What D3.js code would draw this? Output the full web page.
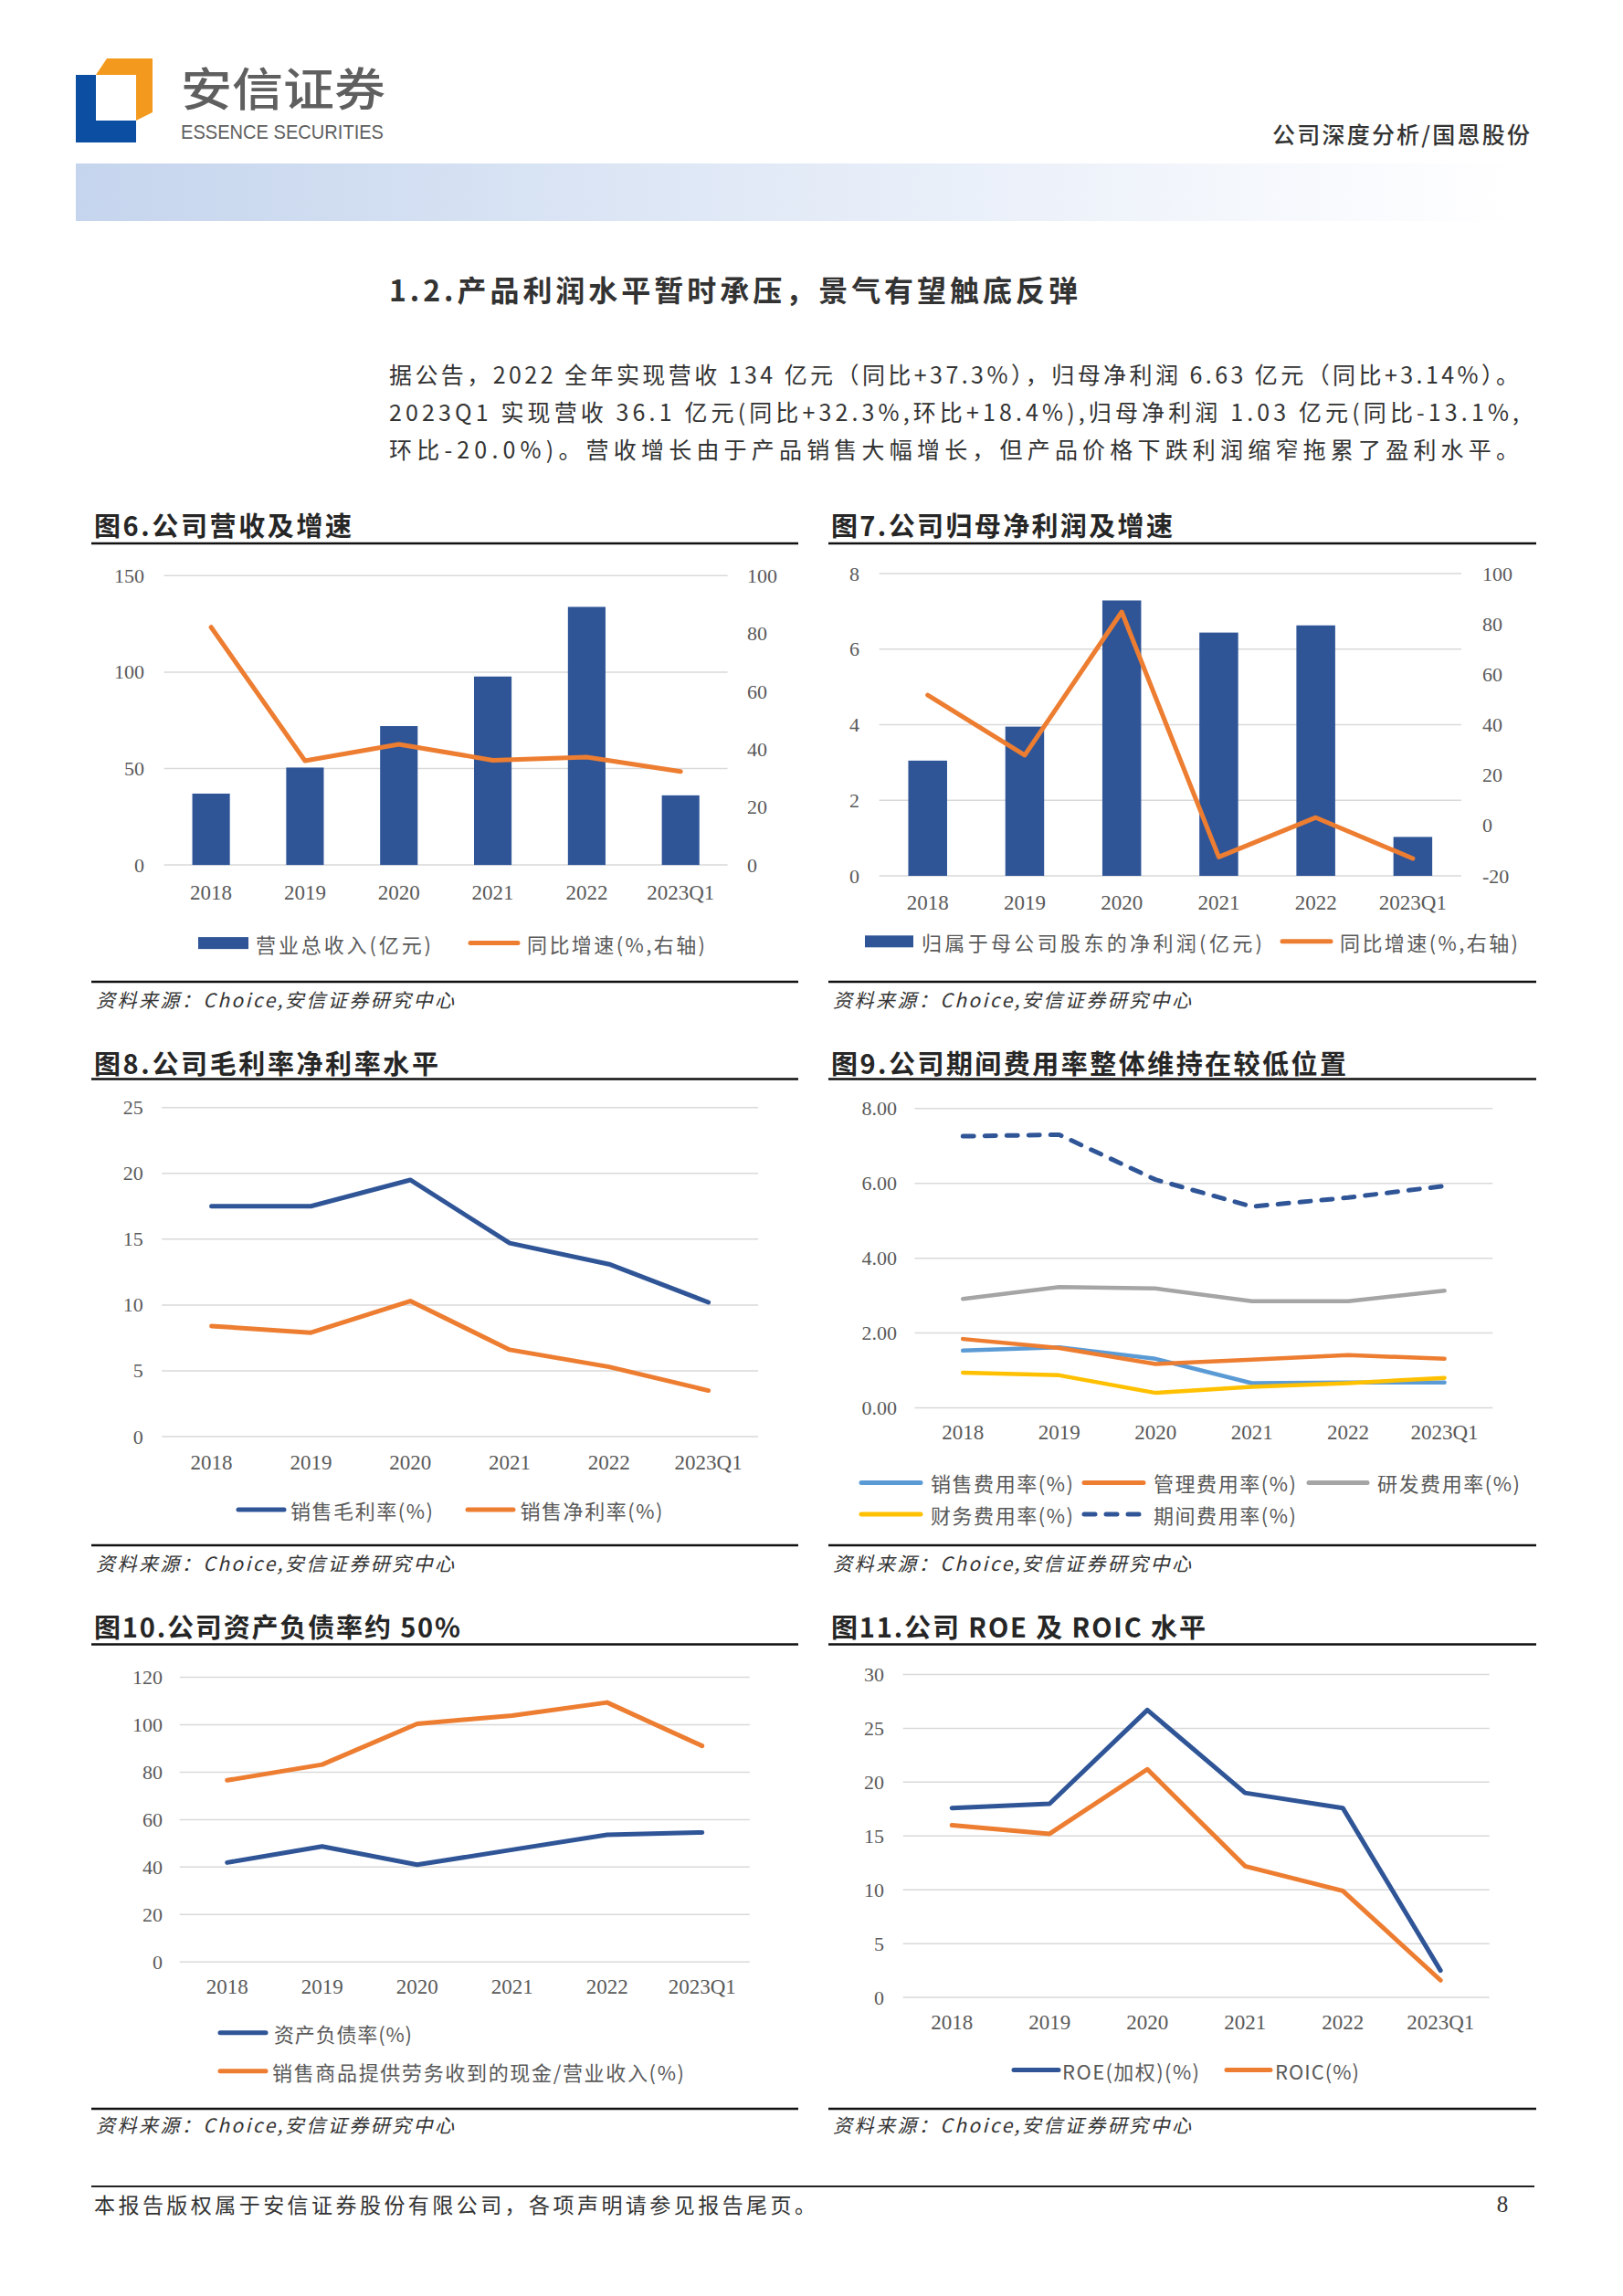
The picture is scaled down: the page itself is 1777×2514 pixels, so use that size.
<!DOCTYPE html>
<html><head><meta charset="utf-8">
<script src="https://cdn.jsdelivr.net/npm/d3@7"></script>
<style>
html,body{margin:0;padding:0;background:#fff;}
svg{display:block;}
</style></head>
<body>
<svg id="page" width="1777" height="2514"></svg>
<script>
// ---------------- DATA ----------------
const years = ["2018","2019","2020","2021","2022","2023Q1"];
// 图6
const revenue = [37.0, 50.5, 72.0, 97.7, 133.8, 36.1];
const revenueYoY = [82.2, 36.0, 41.7, 36.2, 37.3, 32.3];
const revTicksL = [0, 50, 100, 150];
const revTicksR = [0, 20, 40, 60, 80, 100];
// 图7
const netProfit = [3.05, 3.95, 7.29, 6.44, 6.63, 1.03];
const netProfitYoY = [51.8, 27.9, 84.8, -12.5, 3.14, -13.1];
const npTicksL = [0, 2, 4, 6, 8];
const npTicksR = [-20, 0, 20, 40, 60, 80, 100];
// 图8
const grossMargin = [17.5, 17.5, 19.5, 14.7, 13.1, 10.2];
const netMargin = [8.4, 7.9, 10.3, 6.6, 5.3, 3.5];
const marginTicks = [0, 5, 10, 15, 20, 25];
// 图9
const sellingExp = [1.53, 1.62, 1.31, 0.66, 0.68, 0.68];
const adminExp = [1.84, 1.60, 1.17, 1.29, 1.41, 1.31];
const rdExp = [2.91, 3.23, 3.19, 2.85, 2.85, 3.13];
const finExp = [0.94, 0.87, 0.40, 0.56, 0.66, 0.80];
const periodExp = [7.26, 7.30, 6.10, 5.38, 5.62, 5.93];
const expTicks = [0, 2, 4, 6, 8];
// 图10
const debtRatio = [41.9, 48.7, 41.0, 47.3, 53.6, 54.6];
const cashRatio = [76.6, 83.2, 100.4, 103.9, 109.4, 91.1];
const debtTicks = [0, 20, 40, 60, 80, 100, 120];
// 图11
const roe = [17.6, 18.0, 26.7, 19.0, 17.6, 2.5];
const roic = [16.0, 15.2, 21.2, 12.2, 9.9, 1.6];
const roeTicks = [0, 5, 10, 15, 20, 25, 30];

// ---------------- STYLE ----------------
const CJK = "'Noto Sans CJK SC','Noto Sans',sans-serif";
const NUM = "'Liberation Serif','DejaVu Serif',serif";
const C_BLUE = "#2F5597", C_ORANGE = "#ED7D31", C_LBLUE = "#5B9BD5",
      C_GRAY = "#A5A5A5", C_YELLOW = "#FFC000", C_GRID = "#D9D9D9", C_AX = "#595959";

const svg = d3.select("#page");

// ---------------- HEADER ----------------
const defs = svg.append("defs");
const grad = defs.append("linearGradient").attr("id","band").attr("x1","0").attr("x2","1").attr("y1","0").attr("y2","0");
grad.append("stop").attr("offset","0").attr("stop-color","#c5d5ed");
grad.append("stop").attr("offset","0.55").attr("stop-color","#e6edf8");
grad.append("stop").attr("offset","1").attr("stop-color","#ffffff");

// logo
svg.append("rect").attr("x",83).attr("y",82).attr("width",66).attr("height",74).attr("fill","#0b4ea2");
svg.append("polygon").attr("points","105,82 117,64 167,64 167,123 149,132 105,132").attr("fill","#f39a1e");
svg.append("rect").attr("x",105).attr("y",82).attr("width",44).attr("height",50).attr("fill","#fff");
svg.append("text").attr("x",198).attr("y",94).attr("dominant-baseline","central")
  .attr("font-family",CJK).attr("font-size",50).attr("font-weight",500).attr("fill","#5f5f5f")
  .attr("textLength",224).attr("lengthAdjust","spacingAndGlyphs").text("安信证券");
svg.append("text").attr("x",198).attr("y",144).attr("dominant-baseline","central")
  .attr("font-family","'Liberation Sans Narrow','Liberation Sans',sans-serif").attr("font-size",22).attr("fill","#5f5f5f")
  .attr("textLength",222).attr("lengthAdjust","spacingAndGlyphs").text("ESSENCE SECURITIES");
svg.append("text").attr("x",1675).attr("y",146).attr("text-anchor","end").attr("dominant-baseline","central")
  .attr("font-family",CJK).attr("font-size",25).attr("font-weight",500).attr("fill","#333")
  .attr("textLength",282).attr("lengthAdjust","spacing").text("公司深度分析/国恩股份");
svg.append("rect").attr("x",83).attr("y",179).attr("width",1582).attr("height",63).attr("fill","url(#band)");

// section title
svg.append("text").attr("x",426).attr("y",316).attr("dominant-baseline","central")
  .attr("font-family",CJK).attr("font-size",32).attr("font-weight",700).attr("fill","#333")
  .attr("textLength",754).attr("lengthAdjust","spacing").text("1.2.产品利润水平暂时承压，景气有望触底反弹");

const para = [
  "据公告，2022 全年实现营收 134 亿元（同比+37.3%），归母净利润 6.63 亿元（同比+3.14%）。",
  "2023Q1 实现营收 36.1 亿元(同比+32.3%,环比+18.4%),归母净利润 1.03 亿元(同比-13.1%,",
  "环比-20.0%)。营收增长由于产品销售大幅增长，但产品价格下跌利润缩窄拖累了盈利水平。"
];
para.forEach((t,i)=>{
  svg.append("text").attr("x",426).attr("y",409+i*41).attr("dominant-baseline","central")
    .attr("font-family",CJK).attr("font-size",25).attr("fill","#333")
    .attr("textLength",1237).attr("lengthAdjust","spacing").text(t);
});

// ---------------- PANEL FRAME ----------------
function panel(p){
  svg.append("text").attr("x",p.x0+3).attr("y",p.titleY).attr("dominant-baseline","central")
    .attr("font-family",CJK).attr("font-size",29).attr("font-weight",700).attr("fill","#262626")
    .attr("textLength",p.titleW).attr("lengthAdjust","spacing").text(p.title);
  svg.append("line").attr("x1",p.x0).attr("x2",p.x1).attr("y1",p.ruleY).attr("y2",p.ruleY)
    .attr("stroke","#111").attr("stroke-width",2.5);
  svg.append("line").attr("x1",p.x0).attr("x2",p.x1).attr("y1",p.botY).attr("y2",p.botY)
    .attr("stroke","#111").attr("stroke-width",2.5);
  svg.append("text").attr("x",p.x0+5).attr("y",p.srcY).attr("dominant-baseline","central")
    .attr("font-family",CJK).attr("font-size",21).attr("font-style","italic").attr("fill","#333")
    .attr("textLength",392).attr("lengthAdjust","spacing").text("资料来源：Choice,安信证券研究中心");
}

function grid(y, ticks, x0, x1){
  ticks.forEach(t=>{
    svg.append("line").attr("x1",x0).attr("x2",x1).attr("y1",y(t)).attr("y2",y(t))
      .attr("stroke",C_GRID).attr("stroke-width",1.5);
  });
}
function yLabels(y, ticks, x, anchor, fmt){
  ticks.forEach(t=>{
    svg.append("text").attr("x",x).attr("y",y(t)).attr("text-anchor",anchor).attr("dominant-baseline","central")
      .attr("font-family",NUM).attr("font-size",22).attr("fill",C_AX).text(fmt?fmt(t):t);
  });
}
function xLabels(xc, yPos){
  years.forEach(c=>{
    svg.append("text").attr("x",xc(c)).attr("y",yPos).attr("text-anchor","middle").attr("dominant-baseline","central")
      .attr("font-family",NUM).attr("font-size",23).attr("fill",C_AX).text(c);
  });
}
function legendItem(kind, color, lx0, lx1, ly, text, tx, tw){
  if(kind==="rect"){
    svg.append("rect").attr("x",lx0).attr("y",ly-6.5).attr("width",lx1-lx0).attr("height",13).attr("fill",color);
  } else {
    const l = svg.append("line").attr("x1",lx0+2).attr("x2",lx1-2).attr("y1",ly).attr("y2",ly)
      .attr("stroke",color).attr("stroke-width",5).attr("stroke-linecap","round");
    if(kind==="dash") l.attr("stroke-dasharray","12,12");
  }
  const t = svg.append("text").attr("x",tx).attr("y",ly).attr("dominant-baseline","central")
    .attr("font-family",CJK).attr("font-size",22).attr("fill",C_AX).text(text);
  if(tw) t.attr("textLength",tw).attr("lengthAdjust","spacing");
}
function drawLine(x, y, values, color, width, dash){
  const gen = d3.line().x((d,i)=>x(years[i])).y(d=>y(d));
  const p = svg.append("path").attr("d",gen(values)).attr("fill","none").attr("stroke",color)
    .attr("stroke-width",width).attr("stroke-linejoin","round").attr("stroke-linecap","round");
  if(dash) p.attr("stroke-dasharray",dash);
}

// ---------------- 图6 ----------------
(function(){
  panel({x0:100,x1:874,title:"图6.公司营收及增速",titleW:282,titleY:573.5,ruleY:595,botY:1075,srcY:1094});
  const px0=179.7, px1=796.6, yT=630.3, yB=947.1;
  const x = d3.scaleBand().domain(years).range([px0,px1]).paddingInner(0.6).paddingOuter(0.3);
  const xc = c=>x(c)+x.bandwidth()/2;
  const yL = d3.scaleLinear().domain([0,150]).range([yB,yT]);
  const yR = d3.scaleLinear().domain([0,100]).range([yB,yT]);
  grid(yL, revTicksL, px0, px1);
  svg.selectAll(null).data(revenue).enter().append("rect")
    .attr("x",(d,i)=>x(years[i])).attr("width",x.bandwidth())
    .attr("y",d=>yL(d)).attr("height",d=>yB-yL(d)).attr("fill",C_BLUE);
  const xp = d3.scalePoint().domain(years).range([px0,px1]).padding(0.5);
  drawLine(xp, yR, revenueYoY, C_ORANGE, 5);
  yLabels(yL, revTicksL, 158, "end");
  yLabels(yR, revTicksR, 818, "start");
  xLabels(xc, 977);
  legendItem("rect", C_BLUE, 217, 272, 1032.6, "营业总收入(亿元)", 280, 192);
  legendItem("line", C_ORANGE, 513, 569, 1032.6, "同比增速(%,右轴)", 577, 195);
})();

// ---------------- 图7 ----------------
(function(){
  panel({x0:907,x1:1682,title:"图7.公司归母净利润及增速",titleW:374,titleY:573.5,ruleY:595,botY:1075,srcY:1094});
  const px0=962.6, px1=1600, yT=628.1, yB=959;
  const x = d3.scaleBand().domain(years).range([px0,px1]).paddingInner(0.6).paddingOuter(0.3);
  const xc = c=>x(c)+x.bandwidth()/2;
  const yL = d3.scaleLinear().domain([0,8]).range([yB,yT]);
  const yR = d3.scaleLinear().domain([-20,100]).range([yB,yT]);
  grid(yL, npTicksL, px0, px1);
  svg.selectAll(null).data(netProfit).enter().append("rect")
    .attr("x",(d,i)=>x(years[i])).attr("width",x.bandwidth())
    .attr("y",d=>yL(d)).attr("height",d=>yB-yL(d)).attr("fill",C_BLUE);
  const xp = d3.scalePoint().domain(years).range([px0,px1]).padding(0.5);
  drawLine(xp, yR, netProfitYoY, C_ORANGE, 5);
  yLabels(yL, npTicksL, 941, "end");
  yLabels(yR, npTicksR, 1623, "start");
  xLabels(xc, 988);
  legendItem("rect", C_BLUE, 947, 1000, 1030.8, "归属于母公司股东的净利润(亿元)", 1009, 373);
  legendItem("line", C_ORANGE, 1402, 1459, 1030.8, "同比增速(%,右轴)", 1467, 195);
})();

// ---------------- 图8 ----------------
(function(){
  panel({x0:100,x1:874,title:"图8.公司毛利率净利率水平",titleW:377,titleY:1162.7,ruleY:1181.5,botY:1692,srcY:1710.7});
  const px0=177.2, px1=830, yT=1212.7, yB=1573;
  const x = d3.scalePoint().domain(years).range([px0,px1]).padding(0.5);
  const y = d3.scaleLinear().domain([0,25]).range([yB,yT]);
  grid(y, marginTicks, px0, px1);
  drawLine(x, y, grossMargin, C_BLUE, 5);
  drawLine(x, y, netMargin, C_ORANGE, 5);
  yLabels(y, marginTicks, 156.7, "end");
  xLabels(x, 1601);
  legendItem("line", C_BLUE, 259, 313, 1653, "销售毛利率(%)", 318, 156);
  legendItem("line", C_ORANGE, 510, 564, 1653, "销售净利率(%)", 569.5, 156);
})();

// ---------------- 图9 ----------------
(function(){
  panel({x0:907,x1:1682,title:"图9.公司期间费用率整体维持在较低位置",titleW:564,titleY:1162.7,ruleY:1181.5,botY:1692,srcY:1710.7});
  const px0=1001.5, px1=1634.3, yT=1213.8, yB=1541.5;
  const x = d3.scalePoint().domain(years).range([px0,px1]).padding(0.5);
  const y = d3.scaleLinear().domain([0,8]).range([yB,yT]);
  grid(y, expTicks, px0, px1);
  drawLine(x, y, rdExp, C_GRAY, 4.5);
  drawLine(x, y, sellingExp, C_LBLUE, 4.5);
  drawLine(x, y, adminExp, C_ORANGE, 4.5);
  drawLine(x, y, finExp, C_YELLOW, 4.5);
  drawLine(x, y, periodExp, C_BLUE, 5, "12,12");
  yLabels(y, expTicks, 982, "end", d3.format(".2f"));
  xLabels(x, 1568.4);
  legendItem("line", C_LBLUE, 941, 1010, 1623.4, "销售费用率(%)", 1019, 156);
  legendItem("line", C_ORANGE, 1185, 1254, 1623.4, "管理费用率(%)", 1263, 156);
  legendItem("line", C_GRAY, 1431, 1499, 1623.4, "研发费用率(%)", 1508, 156);
  legendItem("line", C_YELLOW, 941, 1010, 1658, "财务费用率(%)", 1019, 156);
  legendItem("dash", C_BLUE, 1185, 1254, 1658, "期间费用率(%)", 1263, 156);
})();

// ---------------- 图10 ----------------
(function(){
  panel({x0:100,x1:874,title:"图10.公司资产负债率约 50%",titleW:401,titleY:1779.8,ruleY:1800.5,botY:2309,srcY:2326.2});
  const px0=196.7, px1=820.7, yT=1836.6, yB=2148.2;
  const x = d3.scalePoint().domain(years).range([px0,px1]).padding(0.5);
  const y = d3.scaleLinear().domain([0,120]).range([yB,yT]);
  grid(y, debtTicks, px0, px1);
  drawLine(x, y, debtRatio, C_BLUE, 5);
  drawLine(x, y, cashRatio, C_ORANGE, 5);
  yLabels(y, debtTicks, 178, "end");
  xLabels(x, 2175.2);
  legendItem("line", C_BLUE, 239, 293, 2225.7, "资产负债率(%)", 300, 151);
  legendItem("line", C_ORANGE, 239, 293, 2267.8, "销售商品提供劳务收到的现金/营业收入(%)", 298, 451);
})();

// ---------------- 图11 ----------------
(function(){
  panel({x0:907,x1:1682,title:"图11.公司 ROE 及 ROIC 水平",titleW:410,titleY:1779.8,ruleY:1800.5,botY:2309,srcY:2326.2});
  const px0=988.7, px1=1630.7, yT=1833.5, yB=2187.1;
  const x = d3.scalePoint().domain(years).range([px0,px1]).padding(0.5);
  const y = d3.scaleLinear().domain([0,30]).range([yB,yT]);
  grid(y, roeTicks, px0, px1);
  drawLine(x, y, roe, C_BLUE, 5);
  drawLine(x, y, roic, C_ORANGE, 5);
  yLabels(y, roeTicks, 968, "end");
  xLabels(x, 2214.2);
  legendItem("line", C_BLUE, 1108, 1161, 2266.6, "ROE(加权)(%)", 1163, 150);
  legendItem("line", C_ORANGE, 1341, 1393, 2266.6, "ROIC(%)", 1396, 92);
})();

// ---------------- FOOTER ----------------
svg.append("line").attr("x1",100).attr("x2",1680).attr("y1",2394).attr("y2",2394).attr("stroke","#222").attr("stroke-width",2);
svg.append("text").attr("x",103).attr("y",2413).attr("dominant-baseline","central")
  .attr("font-family",CJK).attr("font-size",23).attr("fill","#333")
  .attr("textLength",790).attr("lengthAdjust","spacing").text("本报告版权属于安信证券股份有限公司，各项声明请参见报告尾页。");
svg.append("text").attr("x",1645).attr("y",2413).attr("text-anchor","middle").attr("dominant-baseline","central")
  .attr("font-family",NUM).attr("font-size",25).attr("fill","#333").text("8");
</script>
</body></html>
